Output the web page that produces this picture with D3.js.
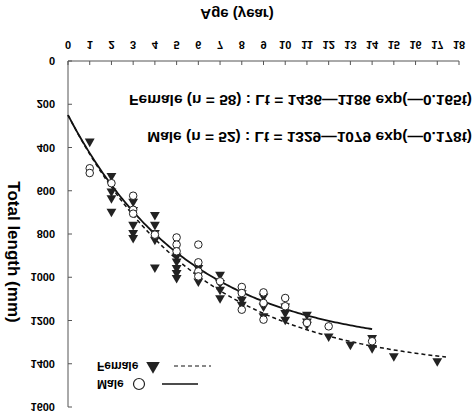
<!DOCTYPE html>
<html><head><meta charset="utf-8">
<script src="https://cdn.jsdelivr.net/npm/d3@7.9.0/dist/d3.min.js"></script>
<style>body{margin:0;background:#fff}text{font-family:"Liberation Sans",Arial,sans-serif;font-weight:bold}</style>
</head><body><div id="chart"></div>
<script>
// the picture is shown flipped vertically, so texts are mirrored top-to-bottom
const xTicks = d3.range(0, 19);
const yTicks = [0, 200, 400, 600, 800, 1000, 1200, 1400, 1600];

const femaleAge = [1,2,2,2,2,3,3,3,3,3,4,4,4,4,4,5,5,5,5,5,6,6,6,7,7,7,7,8,8,8,9,9,9,10,10,10,11,11,11,12,13,14,14,15,17];
const femaleLen = [372,531,603,634,696,650,688,757,795,818,711,757,795,826,954,903,926,957,980,1003,957,988,1019,988,1026,1057,1096,1073,1103,1127,1088,1134,1180,1134,1165,1196,1173,1204,1219,1273,1311,1280,1327,1365,1388];
const maleAge = [1,1,2,3,3,3,4,5,5,5,6,6,6,6,7,8,8,8,9,9,9,10,10,11,12,14];
const maleLen = [496,518,565,623,688,706,803,816,849,880,849,931,973,996,1019,1045,1073,1150,1070,1119,1196,1096,1134,1211,1227,1296];

const femaleFit = {Linf: 1436, b: 1186, k: 0.165, tMax: 17.4};
const maleFit = {Linf: 1329, b: 1079, k: 0.178, tMax: 14};

const W = 474, H = 414;
const svg = d3.select("#chart").append("svg").attr("width", W).attr("height", H);

const x = d3.scaleLinear().domain([0, 18]).range([68, 459]);
const y = d3.scaleLinear().domain([0, 1600]).range([61, 407]);

// flipped text helper
function ftext(tx, ty, str, size, anchor) {
  return svg.append("text")
    .attr("transform", `translate(${tx},${ty}) scale(1,-1)`)
    .attr("dominant-baseline", "central")
    .attr("text-anchor", anchor || "middle")
    .attr("font-size", size)
    .text(str);
}

// axes lines
svg.append("line").attr("x1", x(0)).attr("x2", x(18)).attr("y1", y(0)).attr("y2", y(0)).attr("stroke", "#555");
svg.append("line").attr("x1", x(0)).attr("x2", x(0)).attr("y1", y(0)).attr("y2", y(1600)).attr("stroke", "#555");
xTicks.forEach(t => {
  svg.append("line").attr("x1", x(t)).attr("x2", x(t)).attr("y1", y(0)).attr("y2", y(0) + 4).attr("stroke", "#555");
  ftext(x(t), 45, t, 11);
});
yTicks.forEach(v => {
  svg.append("line").attr("x1", x(0)).attr("x2", x(0) + 4).attr("y1", y(v)).attr("y2", y(v)).attr("stroke", "#555");
  ftext(55, y(v), v, 11, "end");
});

ftext(237, 14, "Age (year)", 15);
svg.append("text").attr("transform", "translate(13,252) rotate(90)")
  .attr("dominant-baseline", "central").attr("text-anchor", "middle")
  .attr("font-size", 17).text("Total length (mm)");

ftext(472, 100, "Female (n = 58) : Lt = 1436\u20141186 exp(\u20140.165t)", 15.5, "end");
ftext(472, 137, "Male (n = 52) : Lt = 1329\u20141079 exp(\u20140.178t)", 15.5, "end");

// fitted curves
function curve(f) {
  const pts = d3.range(0, f.tMax + 0.001, 0.1).map(t => [t, f.Linf - f.b * Math.exp(-f.k * t)]);
  return d3.line().x(d => x(d[0])).y(d => y(d[1]))(pts);
}
svg.append("path").attr("d", curve(femaleFit)).attr("fill", "none").attr("stroke", "#111").attr("stroke-width", 1.5).attr("stroke-dasharray", "4,3");
svg.append("path").attr("d", curve(maleFit)).attr("fill", "none").attr("stroke", "#111").attr("stroke-width", 1.8);

const tri = d3.symbol().type(d3.symbolTriangle).size(42);
const circ = d3.symbol().type(d3.symbolCircle).size(45);

svg.selectAll(".f").data(femaleAge).enter().append("path")
  .attr("d", tri).attr("fill", "#222")
  .attr("transform", (d, i) => `translate(${x(d)},${y(femaleLen[i])}) rotate(180)`);
svg.selectAll(".m").data(maleAge).enter().append("path")
  .attr("d", circ).attr("fill", "#fff").attr("stroke", "#222").attr("stroke-width", 1)
  .attr("transform", (d, i) => `translate(${x(d)},${y(maleLen[i])})`);

// legend
ftext(97, 366, "Female", 12, "start");
svg.append("path").attr("d", d3.symbol().type(d3.symbolTriangle).size(80)).attr("fill", "#222")
  .attr("transform", "translate(153,366) rotate(180)");
svg.append("line").attr("x1", 174).attr("x2", 211).attr("y1", 366).attr("y2", 366).attr("stroke", "#111").attr("stroke-dasharray", "4,3");
ftext(97, 384, "Male", 12, "start");
svg.append("circle").attr("cx", 139).attr("cy", 384).attr("r", 5.5).attr("fill", "#fff").attr("stroke", "#222").attr("stroke-width", 1.2);
svg.append("line").attr("x1", 162).attr("x2", 198).attr("y1", 384).attr("y2", 384).attr("stroke", "#111").attr("stroke-width", 1.5);
</script></body></html>
